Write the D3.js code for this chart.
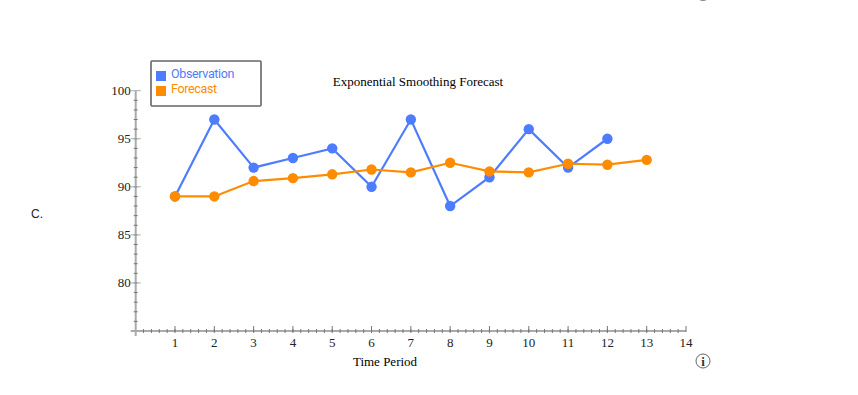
<!DOCTYPE html>
<html>
<head>
<meta charset="utf-8">
<script src="https://cdn.jsdelivr.net/npm/d3@7"></script>
<style>
html, body { margin: 0; padding: 0; background: #fff; overflow: hidden; }
svg { display: block; }
text { font-family: "Liberation Serif", serif; font-size: 13px; fill: #222; }
</style>
</head>
<body>
<svg id="chart" width="858" height="395"></svg>
<script>
// Values
const periods = [1, 2, 3, 4, 5, 6, 7, 8, 9, 10, 11, 12, 13];
const observation = [89, 97, 92, 93, 94, 90, 97, 88, 91, 96, 92, 95];
const forecast = [89, 89, 90.6, 90.9, 91.3, 91.8, 91.5, 92.5, 91.6, 91.5, 92.4, 92.3, 92.8];
const xTicks = [1, 2, 3, 4, 5, 6, 7, 8, 9, 10, 11, 12, 13, 14];
const yTicks = [80, 85, 90, 95, 100];
const seriesNames = ['Observation', 'Forecast'];
const seriesColors = ['#4d7cfe', '#ff8c00'];

const svg = d3.select('#chart');

const xScale = d3.scaleLinear().domain([0, 14]).range([135.7, 686]);
const yScale = d3.scaleLinear().domain([75, 100]).range([331, 90.7]);

const axisColor = '#aaa', tickColor = '#777';

/**
 * Axes.
 */
const xMinor = d3.range(1, 70).map(d => d / 5);
const yMinor = d3.range(76, 100);

svg.append('line')
    .attr('x1', xScale(0) - 5).attr('x2', xScale(14))
    .attr('y1', yScale(75)).attr('y2', yScale(75))
    .attr('stroke', axisColor).attr('stroke-width', 2);
svg.append('line')
    .attr('x1', xScale(0)).attr('x2', xScale(0))
    .attr('y1', yScale(100)).attr('y2', yScale(75) + 5)
    .attr('stroke', axisColor).attr('stroke-width', 2);

svg.append('g').selectAll('line')
    .data(xMinor)
    .join('line')
        .attr('x1', d => xScale(d)).attr('x2', d => xScale(d))
        .attr('y1', yScale(75) - 2).attr('y2', yScale(75) + 2)
        .attr('stroke', tickColor);
svg.append('g').selectAll('line')
    .data(yMinor)
    .join('line')
        .attr('x1', xScale(0) - 2).attr('x2', xScale(0) + 2)
        .attr('y1', d => yScale(d)).attr('y2', d => yScale(d))
        .attr('stroke', tickColor);

svg.append('g').selectAll('line')
    .data(xTicks)
    .join('line')
        .attr('x1', d => xScale(d)).attr('x2', d => xScale(d))
        .attr('y1', yScale(75) - 5).attr('y2', yScale(75) + 1)
        .attr('stroke', tickColor);
svg.append('g').selectAll('line')
    .data(yTicks)
    .join('line')
        .attr('x1', xScale(0) - 5).attr('x2', xScale(0) + 5)
        .attr('y1', d => yScale(d)).attr('y2', d => yScale(d))
        .attr('stroke', axisColor);

svg.append('g').selectAll('text')
    .data(xTicks)
    .join('text')
        .attr('x', d => xScale(d))
        .attr('y', yScale(75) + 16)
        .attr('text-anchor', 'middle')
        .text(d => d);
svg.append('g').selectAll('text')
    .data(yTicks)
    .join('text')
        .attr('x', xScale(0) - 5)
        .attr('y', d => yScale(d) + 4)
        .attr('text-anchor', 'end')
        .text(d => d);

/**
 * Series.
 */
const line = d3.line().x(d => xScale(d.x)).y(d => yScale(d.y));
[observation, forecast].forEach((values, i) => {
    const points = values.map((v, j) => ({ x: periods[j], y: v }));
    svg.append('path')
        .attr('d', line(points))
        .attr('fill', 'none')
        .attr('stroke', seriesColors[i])
        .attr('stroke-width', 2.2);
    svg.append('g').selectAll('circle')
        .data(points)
        .join('circle')
            .attr('cx', d => xScale(d.x))
            .attr('cy', d => yScale(d.y))
            .attr('r', 5.2)
            .attr('fill', seriesColors[i]);
});

/**
 * Legend.
 */
svg.append('rect')
    .attr('x', 151).attr('y', 61)
    .attr('width', 110).attr('height', 45)
    .attr('rx', 1)
    .attr('fill', '#fff')
    .attr('stroke', '#666').attr('stroke-width', 1.6);
seriesNames.forEach((name, i) => {
    svg.append('rect')
        .attr('x', 156).attr('y', 71 + i * 15)
        .attr('width', 10).attr('height', 10)
        .attr('fill', seriesColors[i]);
    svg.append('text')
        .attr('x', 171).attr('y', 78 + i * 15)
        .style('font-family', 'Roboto, sans-serif')
        .style('font-size', '12.5px')
        .style('letter-spacing', '-0.35px')
        .style('fill', seriesColors[i])
        .text(name);
});

/**
 * Labels.
 */
svg.append('text')
    .attr('x', 418).attr('y', 86)
    .attr('text-anchor', 'middle')
    .style('fill', '#000')
    .text('Exponential Smoothing Forecast');
svg.append('text')
    .attr('x', 385).attr('y', 366)
    .attr('text-anchor', 'middle')
    .style('fill', '#000')
    .text('Time Period');
svg.append('text')
    .attr('x', 31).attr('y', 218)
    .style('font-family', '"Liberation Sans", sans-serif')
    .style('font-size', '12px')
    .text('C.');

// Info icon
svg.append('circle')
    .attr('cx', 703).attr('cy', 361).attr('r', 7)
    .attr('fill', '#fff').attr('stroke', '#666').attr('stroke-width', 1);
svg.append('text')
    .attr('x', 703).attr('y', 365.5)
    .attr('text-anchor', 'middle')
    .style('font-weight', 'bold')
    .style('fill', '#333')
    .text('i');

// Icon cut off at the top edge
svg.append('circle')
    .attr('cx', 703).attr('cy', -6).attr('r', 7)
    .attr('fill', '#888');
</script>
</body>
</html>
